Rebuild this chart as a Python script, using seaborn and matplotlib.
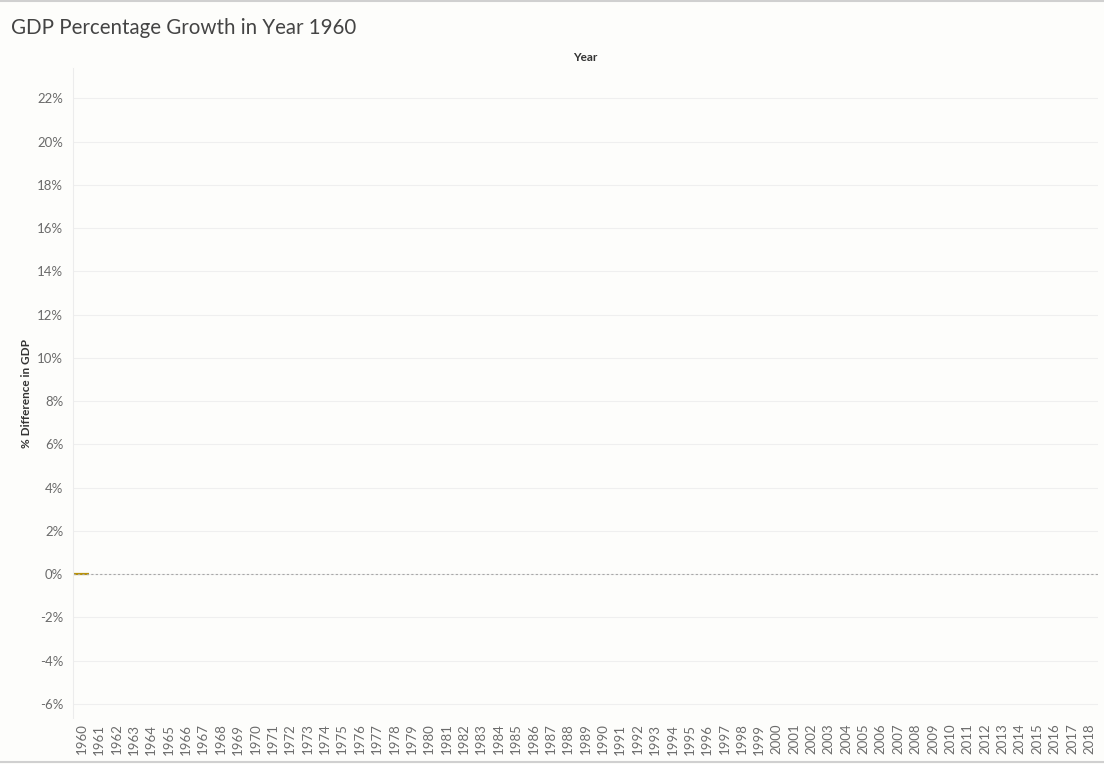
import numpy as np
import pandas as pd
import matplotlib
matplotlib.use("Agg")
import matplotlib.pyplot as plt
import seaborn as sns
from matplotlib.ticker import FuncFormatter, MultipleLocator, FixedLocator
from matplotlib.lines import Line2D

years = [str(y) for y in range(1960, 2019)]
# only 1960 has a value (0% growth against itself), the rest are empty
growth = [0.0] + [np.nan] * (len(years) - 1)

y_ticks = [-6, -4, -2, 0, 2, 4, 6, 8, 10, 12, 14, 16, 18, 20, 22]

df = pd.DataFrame({"Year": years, "growth": growth})

bg = "#fdfdfb"
sns.set_style("white")
plt.rcParams["font.family"] = ["Lato", "DejaVu Sans"]

fig = plt.figure(figsize=(11.04, 7.64), dpi=100, facecolor=bg)
ax = fig.add_axes([0.0661, 0.0602, 0.9285, 0.8508])
ax.set_facecolor(bg)

sns.barplot(data=df, x="Year", y="growth", color="#b8920a", width=0.86,
            edgecolor="#b8920a", linewidth=1.6, ax=ax)

ax.set_ylim(-6.65, 23.4)
ax.set_xlim(-0.5, len(years) - 0.5)
ax.yaxis.set_major_locator(FixedLocator(y_ticks))
ax.yaxis.set_major_formatter(FuncFormatter(lambda v, p: f"{v:.0f}%"))
ax.grid(axis="y", color="#efefef", linewidth=0.8)
ax.set_axisbelow(True)
ax.axhline(0, color="#a8a8a8", linewidth=0.8, linestyle=(0, (2, 2)), zorder=1)

for s in ["top", "right", "bottom"]:
    ax.spines[s].set_visible(False)
ax.spines["left"].set_color("#ececec")
ax.spines["left"].set_linewidth(0.8)

ax.tick_params(axis="y", length=0, labelsize=9.5, labelcolor="#6b6b6b", pad=7)
ax.tick_params(axis="x", which="major", length=0, labelsize=9.5,
               labelcolor="#6b6b6b", labelrotation=90, pad=4)
ax.xaxis.set_minor_locator(MultipleLocator(1, offset=0.5))
ax.tick_params(axis="x", which="minor", length=5, color="#e6e6e6", width=0.8)

ax.set_xlabel("")
ax.set_ylabel("% Difference in GDP", fontsize=8.5, color="#333333",
              fontweight="bold", labelpad=4)

fig.text(0.0661 + 0.9285 / 2, 0.918, "Year", ha="center", va="bottom",
         fontsize=8.5, color="#333333", fontweight="bold")
fig.text(0.010, 0.950, "GDP Percentage Growth in Year 1960", ha="left",
         va="bottom", fontsize=14.8, color="#444444")

fig.add_artist(Line2D([0, 1], [0.9985, 0.9985], color="#d0d0d0", linewidth=1.5,
                      transform=fig.transFigure))
fig.add_artist(Line2D([0, 1], [0.0025, 0.0025], color="#d0d0d0", linewidth=1.5,
                      transform=fig.transFigure))

fig.savefig("out.png", dpi=100, facecolor=bg)
